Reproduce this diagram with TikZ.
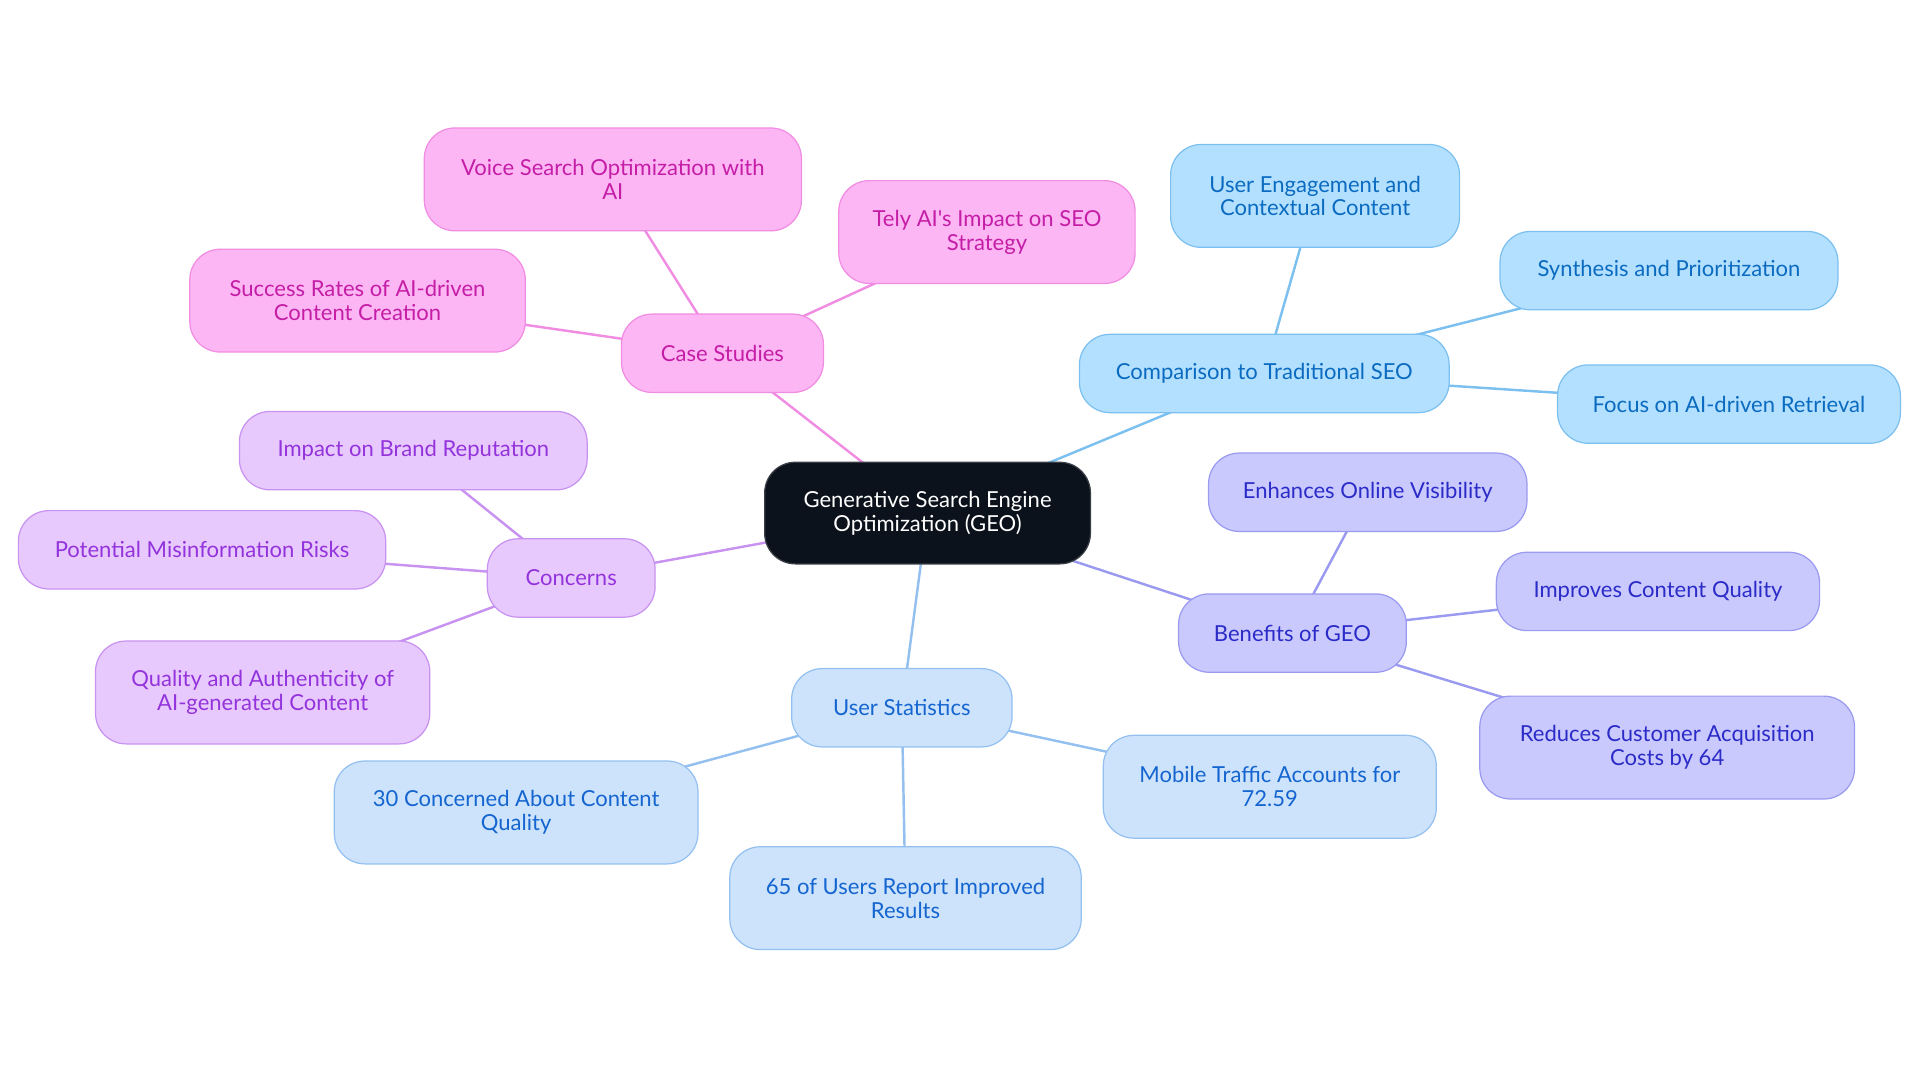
\documentclass[tikz,border=0pt]{standalone}
\usepackage{fontspec}
\usetikzlibrary{backgrounds}
\newfontfamily\geofont{Lato}

\definecolor{rootfill}{HTML}{0C121B}
\definecolor{rootline}{HTML}{3A3F47}
\definecolor{casefill}{HTML}{FDB6F4}
\definecolor{caseline}{HTML}{F08CE2}
\definecolor{casetext}{HTML}{C41DA6}
\definecolor{cmpfill}{HTML}{B3E0FE}
\definecolor{cmpline}{HTML}{7CC0F0}
\definecolor{cmptext}{HTML}{0A6BC0}
\definecolor{benfill}{HTML}{C9C9FE}
\definecolor{benline}{HTML}{9A9AF0}
\definecolor{bentext}{HTML}{2B2BC8}
\definecolor{statfill}{HTML}{CCE3FB}
\definecolor{statline}{HTML}{94C0F0}
\definecolor{stattext}{HTML}{1565D0}
\definecolor{conofill}{HTML}{E8C9FD}
\definecolor{conoline}{HTML}{C892F0}
\definecolor{conotext}{HTML}{9333DB}

\tikzset{
  bubble/.style={rounded corners=25pt, align=center, inner xsep=8pt, inner ysep=4pt,
    line width=1pt, minimum height=64pt, font={\geofont\fontsize{18}{19.5}\selectfont}},
  rootbox/.style={bubble, fill=rootfill, draw=rootline, text=white},
  casebox/.style={bubble, fill=casefill, draw=caseline, text=casetext},
  cmpbox/.style={bubble, fill=cmpfill, draw=cmpline, text=cmptext},
  benbox/.style={bubble, fill=benfill, draw=benline, text=bentext},
  statbox/.style={bubble, fill=statfill, draw=statline, text=stattext},
  conobox/.style={bubble, fill=conofill, draw=conoline, text=conotext},
  link/.style={line width=2pt}
}

\begin{document}
\begin{tikzpicture}[x=1pt,y=-1pt]
                \useasboundingbox (0,0) rectangle (1568,884.4);

                % centre
                \node[rootbox, minimum width=266pt, minimum height=83pt] (geo) at (757.5,419) {Generative Search Engine\\Optimization (GEO)};

                % case studies
                \node[casebox, minimum width=165pt] (case) at (590,288.5) {Case Studies};
                \node[casebox, minimum width=308pt, minimum height=84pt] (voice) at (500.5,146.5) {Voice Search Optimization with\\AI};
                \node[casebox, minimum width=242pt, minimum height=84pt] (tely) at (806,189.5) {Tely AI's Impact on SEO\\Strategy};
                \node[casebox, minimum width=274pt, minimum height=84pt] (success) at (292,245.5) {Success Rates of AI-driven\\Content Creation};

                % comparison
                \node[cmpbox, minimum width=302pt] (compare) at (1032.5,305) {Comparison to Traditional SEO};
                \node[cmpbox, minimum width=236pt, minimum height=84pt] (engage) at (1074,160) {User Engagement and\\Contextual Content};
                \node[cmpbox, minimum width=276pt] (synth) at (1363,221) {Synthesis and Prioritization};
                \node[cmpbox, minimum width=280pt] (focus) at (1412,330) {Focus on AI-driven Retrieval};

                % benefits
                \node[benbox, minimum width=186pt] (benefits) at (1055.5,517) {Benefits of GEO};
                \node[benbox, minimum width=260pt] (enhance) at (1117,402) {Enhances Online Visibility};
                \node[benbox, minimum width=264pt] (improve) at (1354,483) {Improves Content Quality};
                \node[benbox, minimum width=306pt, minimum height=84pt] (reduce) at (1361.5,610.5) {Reduces Customer Acquisition\\Costs by 64};

                % user statistics
                \node[statbox, minimum width=180pt] (stats) at (736.5,578) {User Statistics};
                \node[statbox, minimum width=297pt, minimum height=84pt] (thirty) at (421.5,663.5) {30 Concerned About Content\\Quality};
                \node[statbox, minimum width=287pt, minimum height=84pt] (sixtyfive) at (739.5,733.5) {65 of Users Report Improved\\Results};
                \node[statbox, minimum width=272pt, minimum height=84pt] (mobile) at (1037,642.5) {Mobile Traffic Accounts for\\72.59};

                % concerns
                \node[conobox, minimum width=137pt] (concerns) at (466.5,472) {Concerns};
                \node[conobox, minimum width=284pt] (brand) at (337.5,368) {Impact on Brand Reputation};
                \node[conobox, minimum width=300pt] (misinfo) at (165,449) {Potential Misinformation Risks};
                \node[conobox, minimum width=273pt, minimum height=84pt] (quality) at (214.5,565.5) {Quality and Authenticity of\\AI-generated Content};

                \begin{scope}[on background layer]
                \draw[link, caseline] (geo.center) -- (case.center);
                \draw[link, caseline] (case.center) -- (voice.center);
                \draw[link, caseline] (case.center) -- (tely.center);
                \draw[link, caseline] (case.center) -- (success.center);

                \draw[link, cmpline] (geo.center) -- (compare.center);
                \draw[link, cmpline] (compare.center) -- (engage.center);
                \draw[link, cmpline] (compare.center) -- (synth.center);
                \draw[link, cmpline] (compare.center) -- (focus.center);

                \draw[link, benline] (geo.center) -- (benefits.center);
                \draw[link, benline] (benefits.center) -- (enhance.center);
                \draw[link, benline] (benefits.center) -- (improve.center);
                \draw[link, benline] (benefits.center) -- (reduce.center);

                \draw[link, statline] (geo.center) -- (stats.center);
                \draw[link, statline] (stats.center) -- (thirty.center);
                \draw[link, statline] (stats.center) -- (sixtyfive.center);
                \draw[link, statline] (stats.center) -- (mobile.center);

                \draw[link, conoline] (geo.center) -- (concerns.center);
                \draw[link, conoline] (concerns.center) -- (brand.center);
                \draw[link, conoline] (concerns.center) -- (misinfo.center);
                \draw[link, conoline] (concerns.center) -- (quality.center);
                \end{scope}
\end{tikzpicture}
\end{document}
